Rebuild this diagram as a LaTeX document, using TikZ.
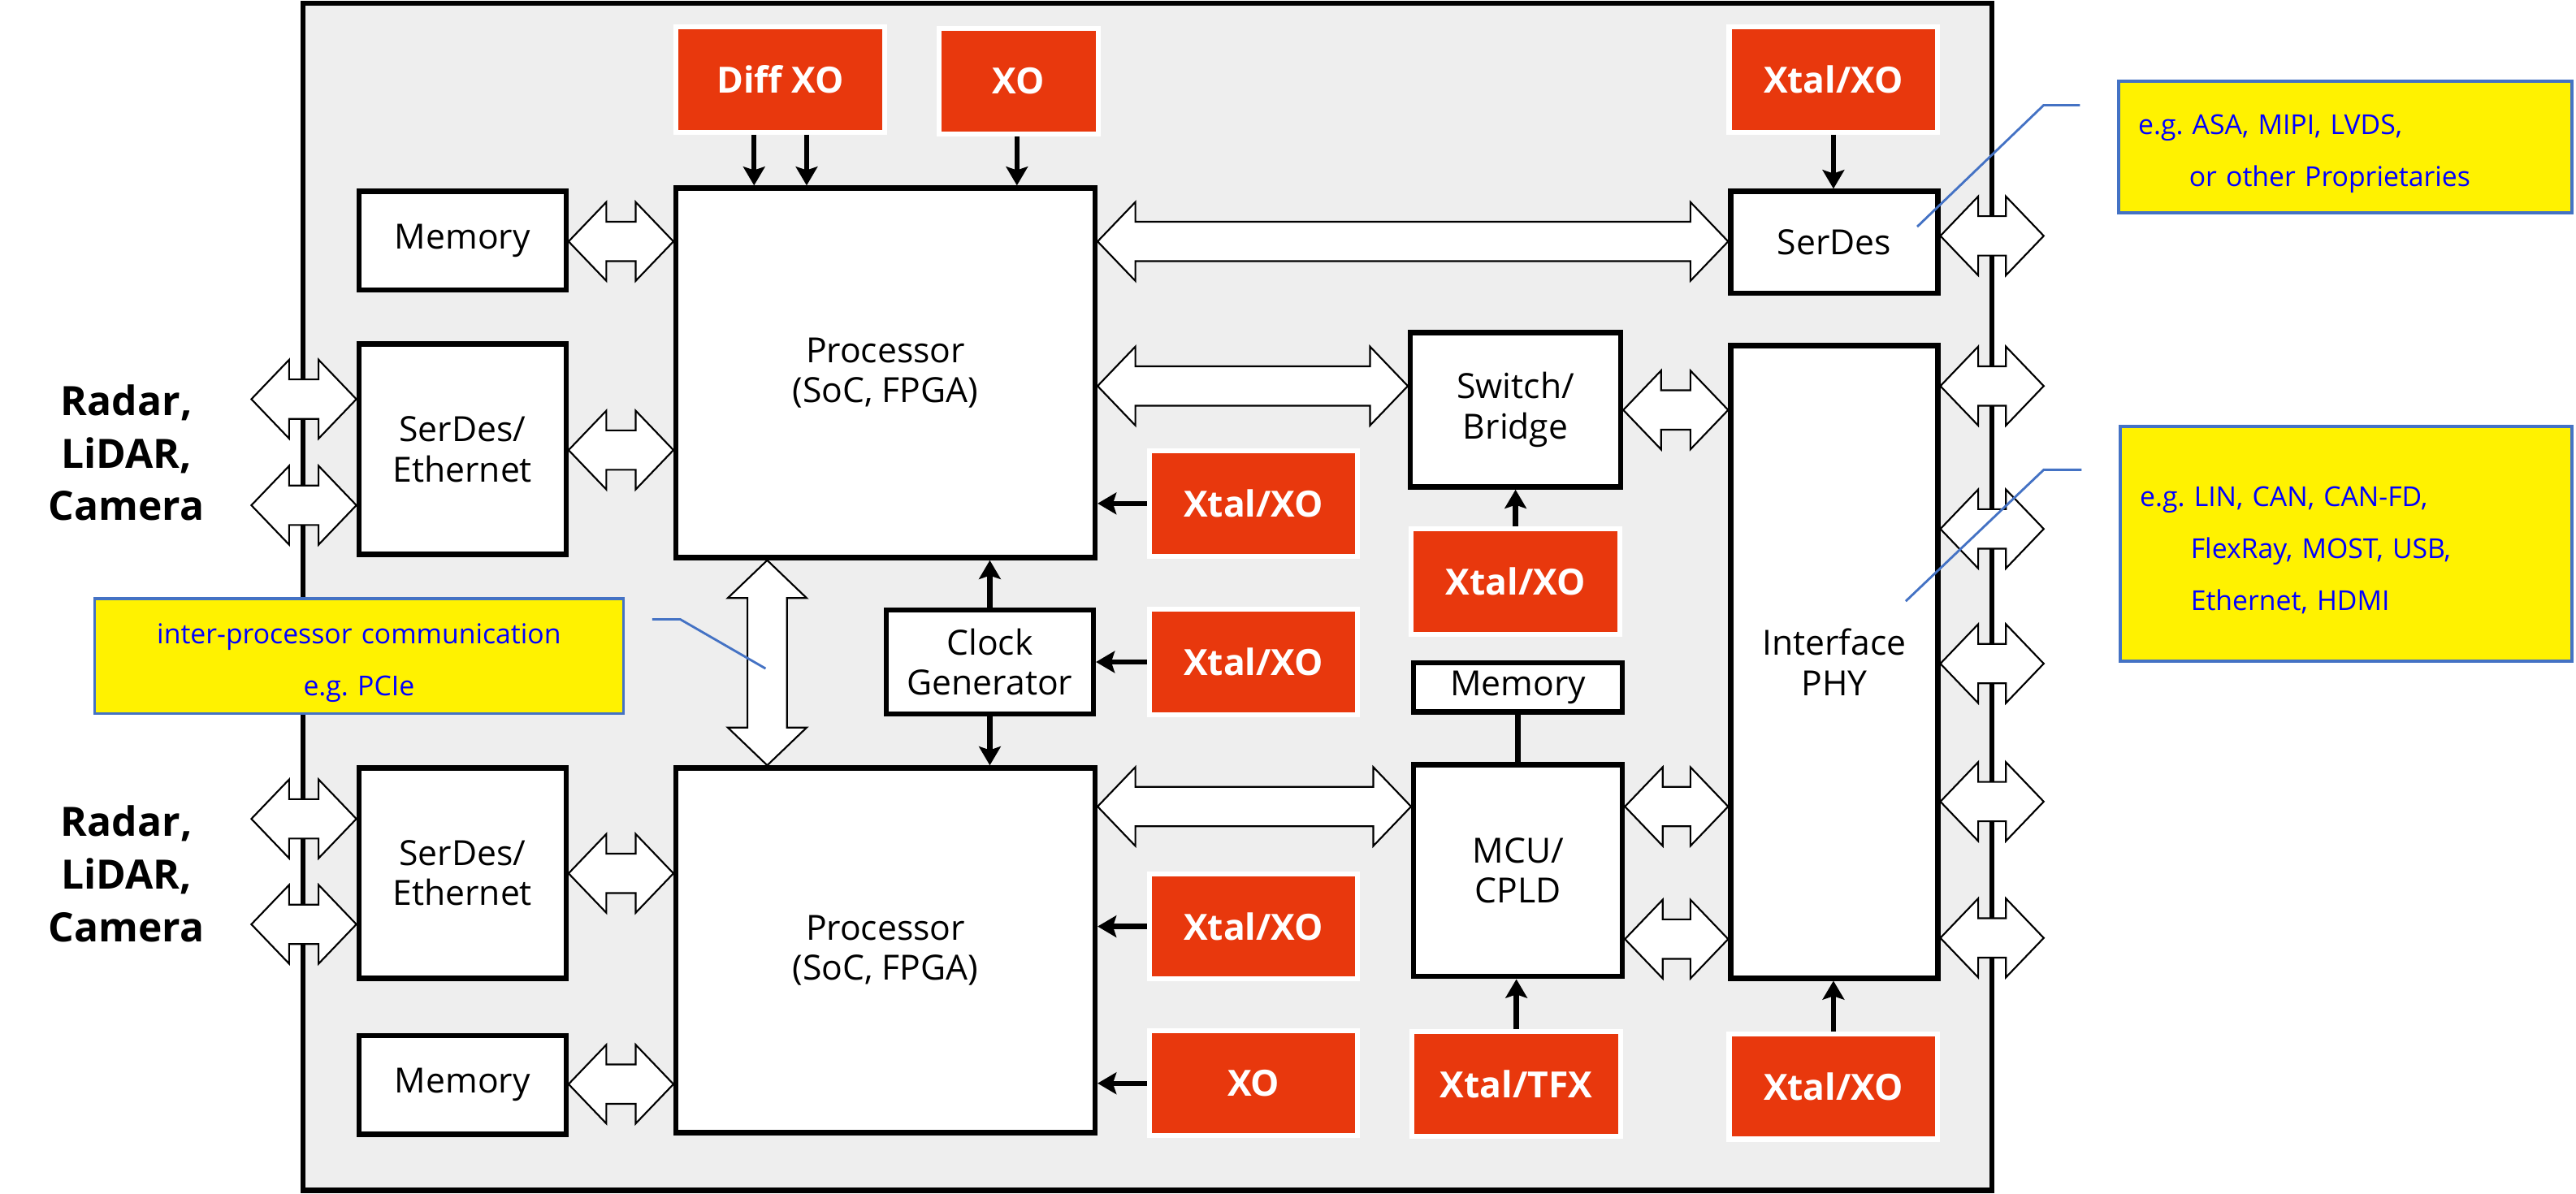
\documentclass[tikz,border=0pt]{standalone}
\usepackage{fontspec}
\setmainfont{Open Sans}
\usetikzlibrary{arrows.meta,calc}
\definecolor{oscred}{RGB}{232,56,13}
\definecolor{boardgray}{RGB}{238,238,238}
\definecolor{noteblue}{RGB}{68,114,196}
\tikzset{boardframe/.style={draw=black, fill=boardgray, line width=1.9pt}}
\tikzset{block/.style={draw=black, fill=white, line width=1.8pt, inner sep=1pt, align=center, font=\fontsize{12pt}{13.9pt}\selectfont}}
\tikzset{osc/.style={draw=white, fill=oscred, line width=1.7pt, text=white, minimum width=25.4mm, minimum height=12.8mm, font=\fontsize{12.5pt}{15pt}\selectfont\bfseries}}
\tikzset{note/.style={draw=noteblue, fill=yellow, line width=1pt, text=blue, font=\fontsize{9.5pt}{18pt}\selectfont}}
\tikzset{source/.style={align=center, font=\fontsize{14pt}{18.2pt}\selectfont\bfseries}}
\tikzset{bus/.style={draw=black, fill=white, line width=0.6pt}}
\tikzset{feed/.style={line width=1.8pt, -{Stealth[length=6.5pt,width=7.5pt,inset=1.2pt]}}}
\tikzset{wire/.style={line width=1.8pt}}
\tikzset{pointer/.style={draw=noteblue, line width=0.8pt}}
\newcommand{\notestrut}{\rule{0pt}{11.5pt}}
% double block arrow: y, left end, right end
\newcommand{\hbus}[3]{%
  \draw[bus] (#2 |- 0,#1) -- ++(23,-24) -- ++(0,12) -- ($(#3 |- 0,#1)+(-23,-12)$) -- ++(0,-12) -- (#3 |- 0,#1)
    -- ++(-23,24) -- ++(0,-12) -- ($(#2 |- 0,#1)+(23,12)$) -- ++(0,12) -- cycle;}
% double block arrow: x, top end, bottom end
\newcommand{\vbus}[3]{%
  \draw[bus] (#1,0 |- #2) -- ++(-24,23) -- ++(12,0) -- ($(#1,0 |- #3)+(-12,-23)$) -- ++(-12,0) -- (#1,0 |- #3)
    -- ++(24,-23) -- ++(-12,0) -- ($(#1,0 |- #2)+(12,23)$) -- ++(12,0) -- cycle;}
\begin{document}
\begin{tikzpicture}[x=0.2mm,y=-0.2mm]
  \useasboundingbox (0,0) rectangle (1568,726.4);
  \draw[boardframe] (184.5,2) rectangle (1212.5,724.5);

  % left column
  \node[block, minimum width=25.2mm, minimum height=12mm] (mem1) at (281.5,146.5) {Memory};
  \node[block, minimum width=25.2mm, minimum height=25.6mm] (sed1) at (281.5,273.5) {SerDes/\\Ethernet};
  \node[block, minimum width=25.2mm, minimum height=25.6mm] (sed2) at (281.5,531.5) {SerDes/\\Ethernet};
  \node[block, minimum width=25.2mm, minimum height=12mm] (mem2) at (281.5,660.5) {Memory};

  % processors
  \node[block, minimum width=51mm, minimum height=45mm] (proc1) at (539,227) {Processor\\(SoC, FPGA)};
  \node[block, minimum width=51mm, minimum height=44.4mm] (proc2) at (539,578.5) {Processor\\(SoC, FPGA)};
  \node[block, minimum width=25.2mm, minimum height=12.6mm] (clkgen) at (602.5,403) {Clock\\Generator};

  % right part
  \node[block, minimum width=25.6mm, minimum height=18.8mm] (sw) at (922.5,249.5) {Switch/\\Bridge};
  \node[block, minimum width=25.4mm, minimum height=6mm, inner sep=0pt] (mem3) at (924,418.5) {Memory};
  \node[block, minimum width=25.4mm, minimum height=25.8mm] (mcu) at (924,530) {MCU/\\CPLD};
  \node[block, minimum width=25.2mm, minimum height=12.4mm] (serdes) at (1116.5,147.5) {SerDes};
  \node[block, minimum width=25.2mm, minimum height=77mm] (phy) at (1116.5,403) {Interface\\PHY};

  % oscillators
  \node[osc] (dxo) at (475,48.5) {Diff XO};
  \node[osc, minimum width=19.4mm] (xo1) at (620,49.5) {XO};
  \node[osc] (xt1) at (1116,48.5) {Xtal/XO};
  \node[osc] (xt2) at (763,306.5) {Xtal/XO};
  \node[osc] (xt3) at (763,403) {Xtal/XO};
  \node[osc] (xt4) at (763,564) {Xtal/XO};
  \node[osc] (xo2) at (763,659.5) {XO};
  \node[osc] (xt5) at (922.5,354) {Xtal/XO};
  \node[osc] (tfx) at (923,660) {Xtal/TFX};
  \node[osc] (xt6) at (1116,661.5) {Xtal/XO};

  % notes
  \node[note, text width=50.4mm, inner xsep=2.4mm, minimum height=16mm, align=left] (note1) at (1427.5,89.5)
    {\notestrut e.g.\ ASA, MIPI, LVDS,\\\hspace*{6.2mm}or other Proprietaries};
  \node[note, text width=50.2mm, inner xsep=2.4mm, minimum height=28.6mm, align=left] (note2) at (1428,331)
    {\notestrut e.g.\ LIN, CAN, CAN-FD,\\\hspace*{6.2mm}FlexRay, MOST, USB,\\\hspace*{6.2mm}Ethernet, HDMI};
  \node[note, text width=60mm, inner xsep=2.2mm, minimum height=14mm, align=center] (note3) at (218.5,399.5)
    {\notestrut inter-processor communication\\e.g.\ PCIe};

  \node[source] (src1) at (77,275.6) {Radar,\\LiDAR,\\Camera};
  \node[source] (src2) at (77,532) {Radar,\\LiDAR,\\Camera};

  % buses
  \hbus{147}{mem1.east}{proc1.west}
  \hbus{274}{sed1.east}{proc1.west}
  \hbus{531.7}{sed2.east}{proc2.west}
  \hbus{660}{mem2.east}{proc2.west}
  \hbus{147}{proc1.east}{serdes.west}
  \hbus{235}{proc1.east}{sw.west}
  \hbus{249.6}{sw.east}{phy.west}
  \hbus{491}{proc2.east}{mcu.west}
  \hbus{491}{mcu.east}{phy.west}
  \hbus{571.7}{mcu.east}{phy.west}
  \vbus{467}{proc1.south}{proc2.north}

  \foreach \y/\dest [count=\i] in {243/sed1, 307.6/sed1, 498.5/sed2, 562.7/sed2} {
    \coordinate (sensor\i) at (153,\y);
    \hbus{\y}{sensor\i}{\dest.west}
  }
  \coordinate (ext0) at (1244,143.6);
  \hbus{143.6}{serdes.east}{ext0}
  \foreach \y [count=\i] in {235,322,404,488,571} {
    \coordinate (ext\i) at (1244,\y);
    \hbus{\y}{phy.east}{ext\i}
  }

  % clocks
  \draw[feed] (dxo.south -| 459,0) -- (proc1.north -| 459,0);
  \draw[feed] (dxo.south -| 491,0) -- (proc1.north -| 491,0);
  \draw[feed] (xo1.south -| 619,0) -- (proc1.north -| 619,0);
  \draw[feed] (xt1.south) -- (serdes.north -| xt1.south);
  \draw[feed] (xt2.west) -- (proc1.east |- xt2.west);
  \draw[feed] (xt3.west) -- (clkgen.east);
  \draw[feed] (xt4.west) -- (proc2.east |- xt4.west);
  \draw[feed] (xo2.west) -- (proc2.east |- xo2.west);
  \draw[feed] (clkgen.north) -- (proc1.south -| clkgen.north);
  \draw[feed] (clkgen.south) -- (proc2.north -| clkgen.south);
  \draw[feed] (xt5.north) -- (sw.south -| xt5.north);
  \draw[wire] (mem3.south) -- (mcu.north);
  \draw[feed] (tfx.north) -- (mcu.south -| tfx.north);
  \draw[feed] (xt6.north) -- (phy.south -| xt6.north);

  % note pointers
  \coordinate (tip1) at (1167,138);
  \coordinate (end1) at (1266,64);
  \draw[pointer] (tip1) -- (1244,64) -- (end1);
  \coordinate (tip2) at (1160,366);
  \coordinate (end2) at (1267,286);
  \draw[pointer] (tip2) -- (1244,286) -- (end2);
  \coordinate (tip3) at (466,407);
  \coordinate (end3) at (397,377);
  \draw[pointer] (tip3) -- (414,377) -- (end3);
\end{tikzpicture}
\end{document}
